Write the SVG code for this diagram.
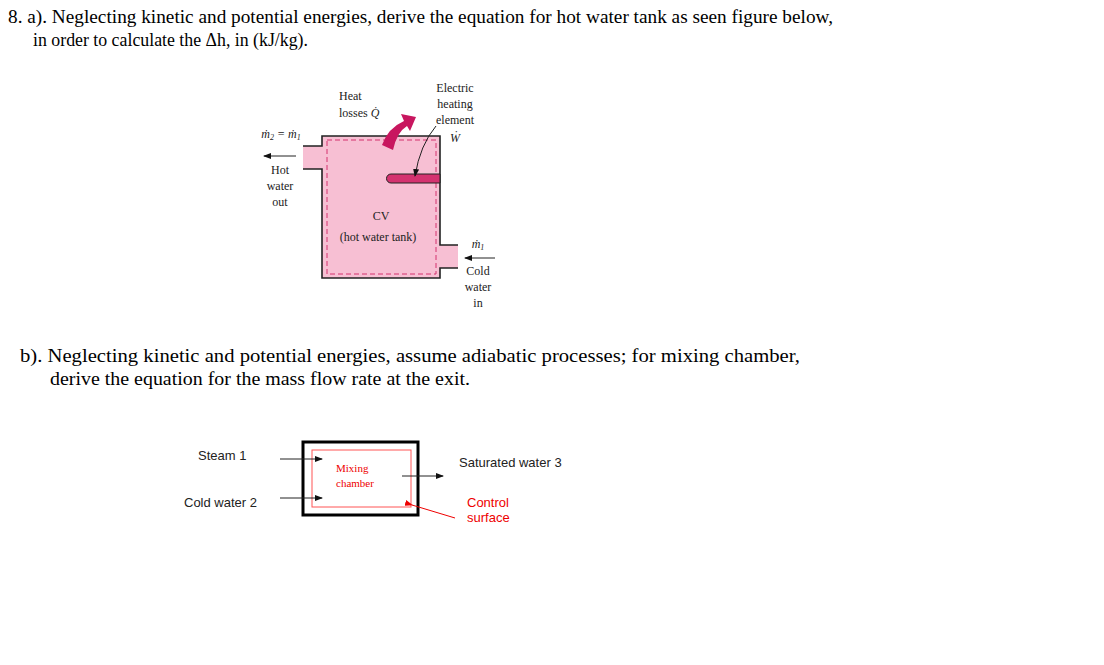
<svg xmlns="http://www.w3.org/2000/svg" width="1104" height="665" viewBox="0 0 1104 665">
<style>
.q{font-family:"Liberation Serif",serif;font-size:19px;fill:#000}
.s{font-family:"Liberation Serif",serif;font-size:12px;fill:#222}
.a{font-family:"Liberation Sans",sans-serif;font-size:13px;fill:#222}
.r{font-family:"Liberation Serif",serif;font-size:11px;fill:#e00}
.ra{font-family:"Liberation Sans",sans-serif;font-size:13px;fill:#e00}
.sub{font-size:8px}
</style>
<defs>
<marker id="ah" markerWidth="8" markerHeight="6" refX="7" refY="3" orient="auto" markerUnits="userSpaceOnUse"><path d="M0,0 L8,3 L0,6z" fill="#111"/></marker>
<marker id="ar" markerWidth="8" markerHeight="6" refX="1" refY="3" orient="auto" markerUnits="userSpaceOnUse"><path d="M8,0 L0,3 L8,6z" fill="#e00"/></marker>
</defs>
<rect width="1104" height="665" fill="#fff"/>
<text class="q" x="8" y="23" textLength="825" lengthAdjust="spacingAndGlyphs">8. a). Neglecting kinetic and potential energies, derive the equation for hot water tank as seen figure below,</text>
<text class="q" x="33" y="46" textLength="275" lengthAdjust="spacingAndGlyphs">in order to calculate the Δh, in (kJ/kg).</text>
<text class="q" x="20" y="362" textLength="780" lengthAdjust="spacingAndGlyphs">b). Neglecting kinetic and potential energies, assume adiabatic processes; for mixing chamber,</text>
<text class="q" x="50" y="385" textLength="420" lengthAdjust="spacingAndGlyphs">derive the equation for the mass flow rate at the exit.</text>
<g id="tank">
<path d="M322,136 H440 V245 H458 V268 H440 V278 H322 V169 H303 V146 H322 Z" fill="#f7bfd3"/>
<path d="M303,146 H322 V136 H440 V245 H458 M458,268 H440 V278 H322 V169 H303" fill="none" stroke="#222" stroke-width="1.6"/>
<rect x="327" y="140" width="109" height="134" fill="none" stroke="#d4326f" stroke-width="1" stroke-dasharray="5,3"/>
<path d="M440,174 H391 a4.5,4.5 0 0 0 0,9 H440 Z" fill="#d4326f" stroke="#222" stroke-width="1"/>
<text class="s" x="381" y="220" text-anchor="middle">CV</text>
<text class="s" x="378" y="241" text-anchor="middle">(hot water tank)</text>
</g>
<g id="heatloss">
<path d="M382,145 Q388,128 404,121 L401,114 L416,117 L410,131 L407,126 Q397,132 393,150 Z" fill="#c8165f"/>
<text class="s" x="339" y="100">Heat</text>
<text class="s" x="339" y="117">losses <tspan font-style="italic">Q̇</tspan></text>
</g>
<g id="electric">
<text class="s" x="455" y="92" text-anchor="middle">Electric</text>
<text class="s" x="455" y="108" text-anchor="middle">heating</text>
<text class="s" x="455" y="124" text-anchor="middle">element</text>
<text class="s" x="455" y="142" text-anchor="middle" font-style="italic">Ẇ</text>
</g>
<g id="hotout">
<text class="s" x="281" y="138" text-anchor="middle" font-style="italic" font-size="11">ṁ<tspan class="sub" dy="2">2</tspan><tspan dy="-2"> = ṁ</tspan><tspan class="sub" dy="2">1</tspan></text>
<text class="s" x="280" y="174" text-anchor="middle">Hot</text>
<text class="s" x="280" y="190" text-anchor="middle">water</text>
<text class="s" x="280" y="206" text-anchor="middle">out</text>
</g>
<g id="coldin">
<text class="s" x="478" y="248" text-anchor="middle" font-style="italic" font-size="11">ṁ<tspan class="sub" dy="2">1</tspan></text>
<text class="s" x="478" y="275" text-anchor="middle">Cold</text>
<text class="s" x="478" y="291" text-anchor="middle">water</text>
<text class="s" x="478" y="307" text-anchor="middle">in</text>
</g>
<g id="chamber">
<rect x="303" y="442" width="115" height="73" fill="#fff" stroke="#000" stroke-width="3"/>
<rect x="312" y="450" width="99" height="57" fill="none" stroke="#f55" stroke-width="1"/>
<text class="r" x="336" y="472">Mixing</text>
<text class="r" x="336" y="487">chamber</text>
</g>
<text class="a" x="198" y="460">Steam 1</text>
<text class="a" x="184" y="507">Cold water 2</text>
<text class="a" x="459" y="467">Saturated water 3</text>
<text class="ra" x="467" y="507">Control</text>
<text class="ra" x="467" y="522">surface</text>
<g id="connectors" fill="none" stroke="#222" stroke-width="1">
<path d="M296,156 H264" marker-end="url(#ah)"/>
<path d="M495,258 H465" marker-end="url(#ah)"/>
<path d="M436,126 Q420,145 415,176" marker-end="url(#ah)"/>
<path d="M280,459 H322" marker-end="url(#ah)"/>
<path d="M280,498 H322" marker-end="url(#ah)"/>
<path d="M402,476 H443" marker-end="url(#ah)"/>
<path d="M455,518 L412,505" stroke="#e00" marker-end="url(#ar)"/>
</g>
</svg>
